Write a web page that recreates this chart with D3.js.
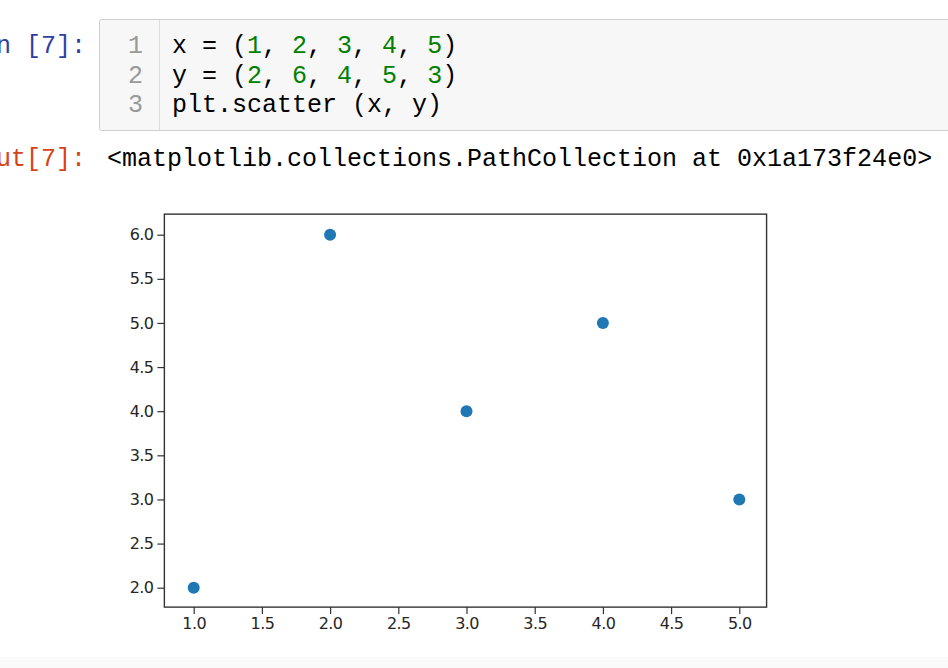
<!DOCTYPE html>
<html><head><meta charset="utf-8">
<script src="https://cdn.jsdelivr.net/npm/d3@7"></script>
<style>
html,body{margin:0;padding:0;background:#fff;overflow:hidden;}
svg{display:block;}
</style></head>
<body>
<svg id="c" width="948" height="668"></svg>
<script>
// ---- data ----
const xValues = [1, 2, 3, 4, 5];
const yValues = [2, 6, 4, 5, 3];
const xTicks = [1.0, 1.5, 2.0, 2.5, 3.0, 3.5, 4.0, 4.5, 5.0];
const yTicks = [2.0, 2.5, 3.0, 3.5, 4.0, 4.5, 5.0, 5.5, 6.0];
const codeLines = [
  [["x = (", "k"], ["1", "n"], [", ", "k"], ["2", "n"], [", ", "k"], ["3", "n"], [", ", "k"], ["4", "n"], [", ", "k"], ["5", "n"], [")", "k"]],
  [["y = (", "k"], ["2", "n"], [", ", "k"], ["6", "n"], [", ", "k"], ["4", "n"], [", ", "k"], ["5", "n"], [", ", "k"], ["3", "n"], [")", "k"]],
  [["plt.scatter (x, y)", "k"]]
];
const outText = "<matplotlib.collections.PathCollection at 0x1a173f24e0>";

(function () {
const svg = d3.select("#c");
const mono = "'Liberation Mono', 'DejaVu Sans Mono', monospace";

// bottom light band
svg.append("rect").attr("x", 0).attr("y", 657).attr("width", 948).attr("height", 11).attr("fill", "#fafafa");

// ---- code cell ----
svg.append("rect").attr("x", 99.5).attr("y", 19.5).attr("width", 900).attr("height", 111)
  .attr("rx", 2).attr("fill", "#f7f7f7").attr("stroke", "#cfcfcf").attr("stroke-width", 1);
svg.append("line").attr("x1", 159.5).attr("x2", 159.5).attr("y1", 20).attr("y2", 130)
  .attr("stroke", "#dddddd");

svg.append("text").attr("x", 86).attr("y", 53).attr("text-anchor", "end")
  .attr("font-family", mono).attr("font-size", 25).attr("fill", "#303F9F").text("In [7]:");

const colors = {k: "#000", n: "#008000"};
codeLines.forEach((line, i) => {
  const yb = 53 + i * 29.6;
  svg.append("text").attr("x", 143).attr("y", yb).attr("text-anchor", "end")
    .attr("font-family", mono).attr("font-size", 25).attr("fill", "#999").text(String(i + 1));
  const t = svg.append("text").attr("x", 172).attr("y", yb)
    .attr("font-family", mono).attr("font-size", 25)
    .style("white-space", "pre");
  line.forEach(([s, c]) => t.append("tspan").attr("fill", colors[c]).text(s));
});

svg.append("text").attr("x", 86).attr("y", 166).attr("text-anchor", "end")
  .attr("font-family", mono).attr("font-size", 25).attr("fill", "#D84315").text("Out[7]:");
svg.append("text").attr("x", 107).attr("y", 166)
  .attr("font-family", mono).attr("font-size", 25).attr("fill", "#000").text(outText);

// ---- chart ----
const x = d3.scaleLinear().domain([1, 5]).range([193.7, 739.3]);
const y = d3.scaleLinear().domain([2, 6]).range([587.7, 234.7]);
const fLeft = x(0.785), fRight = x(5.2), fTop = y(6.233), fBottom = y(1.78);

const g = svg.append("g");
const xAxis = d3.axisBottom(x).tickValues(xTicks).tickFormat(d3.format(".1f")).tickSize(7).tickPadding(4);
const yAxis = d3.axisLeft(y).tickValues(yTicks).tickFormat(d3.format(".1f")).tickSize(7).tickPadding(4);

const gx = g.append("g").attr("transform", `translate(0,${fBottom})`).call(xAxis);
const gy = g.append("g").attr("transform", `translate(${fLeft},0)`).call(yAxis);
[gx, gy].forEach(a => {
  a.select(".domain").remove();
  a.selectAll(".tick line").attr("stroke", "#333").attr("stroke-width", 1.2);
  a.selectAll(".tick text").attr("fill", "#262626")
    .attr("font-family", "'DejaVu Sans', sans-serif").attr("font-size", 16).attr("letter-spacing", -0.6);
});

g.append("rect").attr("x", fLeft).attr("y", fTop).attr("width", fRight - fLeft).attr("height", fBottom - fTop)
  .attr("fill", "none").attr("stroke", "#333").attr("stroke-width", 1.4);

g.selectAll("circle.pt").data(xValues.map((v, i) => [v, yValues[i]])).enter()
  .append("circle").attr("class", "pt")
  .attr("cx", d => x(d[0])).attr("cy", d => y(d[1])).attr("r", 6)
  .attr("fill", "#1f77b4");
})();
</script>
</body></html>
